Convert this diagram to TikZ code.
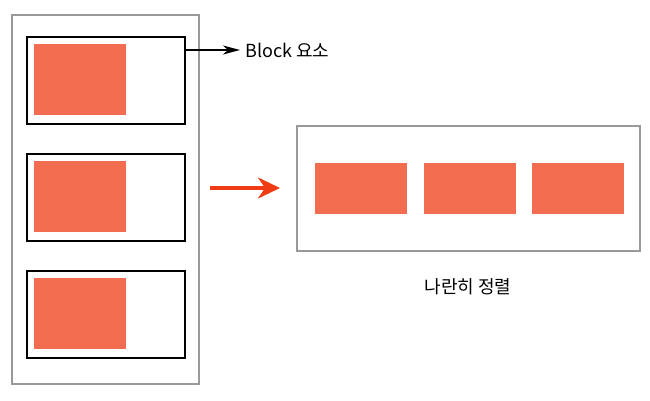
\documentclass[tikz,border=0pt]{standalone}
\usepackage{fontspec}
\setmainfont{Noto Sans CJK KR}
\usetikzlibrary{arrows.meta}
\definecolor{blk}{HTML}{F26D50}
\definecolor{frame}{HTML}{999999}
\definecolor{redarrow}{HTML}{F03C14}
\tikzset{
  outer/.style={draw=frame, line width=2pt},
  inner/.style={draw=black, line width=2pt},
  fillbox/.style={fill=blk},
  lbl/.style={font=\fontsize{18}{21}\selectfont, inner sep=0pt}
}
\begin{document}
\begin{tikzpicture}[x=1pt,y=-1pt]
\useasboundingbox (0,0) rectangle (650,400);
% left column
\draw[outer] (12,15) rectangle (199,384);
\foreach \i/\o in {a/0,b/117,c/234}{
  \draw[inner] (26.5,37+\o) rectangle (185,124+\o);
  \fill[fillbox] (34,44+\o) rectangle (126,115+\o);
}
\coordinate (boxa) at (185,50);
\node[lbl, anchor=west] (blocklbl) at (245,50) {Block 요소};
\draw[-{Stealth[length=17pt,width=9pt,inset=5pt]}, line width=1.3pt] (boxa) -- ([xshift=-5pt]blocklbl.west);
% right container
\draw[outer] (297,126) rectangle (640,251);
\node[fillbox, minimum width=92pt, minimum height=51pt, inner sep=0pt] (r1) at (361,188.5) {};
\node[fillbox, minimum width=92pt, minimum height=51pt, inner sep=0pt] (r2) at (470,188.5) {};
\node[fillbox, minimum width=92pt, minimum height=51pt, inner sep=0pt] (r3) at (578,188.5) {};
\coordinate (ra) at (210,188);
\coordinate (rb) at (280,188);
\draw[redarrow, line width=3.3pt, -{Stealth[length=22pt,width=21pt,inset=7pt]}] (ra) -- (rb);
\node[lbl] (side) at (468,287) {나란히 정렬};
\end{tikzpicture}
\end{document}
